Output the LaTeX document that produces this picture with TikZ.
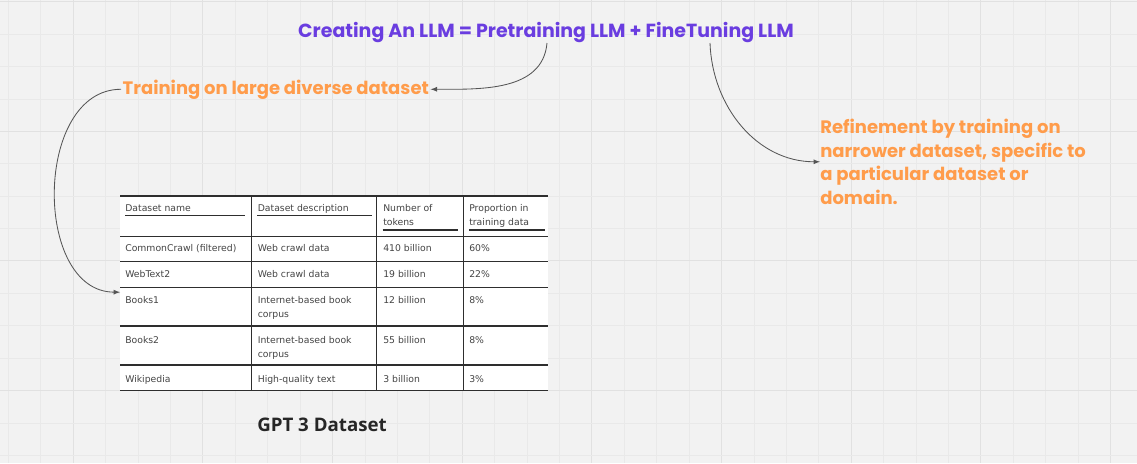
\documentclass[tikz,border=0pt]{standalone}
\usepackage{fontspec}
\usepackage{tikz}
\newfontfamily\notefont{Poppins}
\newfontfamily\cellfont{DejaVu Sans}
\newfontfamily\capfont{Open Sans}
\newcommand\celllines[2]{\vtop{\hbox{#1}\hbox{#2}}}
\definecolor{llm_purple}{HTML}{6A3DE0}
\colorlet{llmpurple}{llm_purple}
\definecolor{note_orange}{HTML}{FF9C4B}
\colorlet{noteorange}{note_orange}
\definecolor{canvas}{HTML}{F2F2F2}
\definecolor{gridminor}{HTML}{E9E9E9}
\definecolor{gridmajor}{HTML}{E1E1E1}
\definecolor{celltext}{HTML}{444444}
\definecolor{cellrule}{HTML}{2E2E2E}
\definecolor{linkgray}{HTML}{555555}
\tikzset{
  headline/.style={text=llmpurple,font=\notefont\bfseries\fontsize{13.5}{16}\selectfont,inner sep=0pt},
  note/.style={text=noteorange,font=\notefont\bfseries\fontsize{12.8}{16.7}\selectfont,inner sep=0pt,align=left},
  cell/.style={text=celltext,font=\cellfont\fontsize{6.6}{10}\selectfont,inner sep=0pt,anchor=base west},
  tablecaption/.style={text=black!85,font=\capfont\bfseries\fontsize{13.3}{15}\selectfont,inner sep=0pt,anchor=base west},
  rowrule/.style={draw=cellrule,line width=1pt},
  headrule/.style={draw=cellrule,line width=0.75pt},
  minorline/.style={draw=gridminor,line width=0.6pt},
  majorline/.style={draw=gridmajor,line width=0.7pt},
  relation/.style={draw=linkgray,line width=0.6pt,-latex},
}
\begin{document}
\begin{tikzpicture}[x=0.025cm,y=-0.025cm]
	    \fill[canvas] (0,0) rectangle (1137,463);
	    \useasboundingbox (0,0) rectangle (1137,463);
	    % background grid
	    \foreach \i in {0,...,34} {
	      \pgfmathtruncatemacro\m{mod(\i,4)}
	      \ifnum\m=2 \draw[majorline] ({8.5+32.41*\i},0) -- ++(0,463);
	      \else \draw[minorline] ({8.5+32.41*\i},0) -- ++(0,463); \fi
	    }
	    \foreach \j in {0,...,14} {
	      \pgfmathtruncatemacro\m{mod(\j,4)}
	      \ifnum\m=0 \draw[majorline] (0,{1.7+32.41*\j}) -- ++(1137,0);
	      \else \draw[minorline] (0,{1.7+32.41*\j}) -- ++(1137,0); \fi
	    }
	    % texts
	    \node[headline,anchor=base] (title) at (546,37) {Creating An LLM = Pretraining LLM + FineTuning LLM};
	    \node[note,anchor=base west,inner sep=1pt] (train) at (121,94) {Training on large diverse dataset};
	    \node[note,anchor=north west] (refine) at (820,119) {Refinement by training on\\narrower dataset, specific to\\a particular dataset or\\domain.};
	    \coordinate (pre) at (547,43);
	    \coordinate (fine) at (710,43);
	    % table
	    \fill[white] (120,195.7) rectangle (548,391);
	    \foreach \y in {196,236.7,261.7,287.3,326,365,390.7}
	      \draw[rowrule] (120,\y) -- (548,\y);
	    \foreach \x in {251.7,376.7,463.3}
	      \draw[rowrule] (\x,196) -- (\x,390.7);
	    \draw[headrule] (125,215.7) -- (245,215.7);
	    \draw[headrule] (257.3,215.7) -- (371.7,215.7);
	    \draw[headrule] (382.7,230) -- (457.7,230);
	    \draw[headrule] (469,230) -- (545,230);
	    \node[cell] (hname) at (125,211.7) {Dataset name};
	    \node[cell] (hdesc) at (257.5,211.7) {Dataset description};
	    \node[cell] (htok) at (383,211.7) {\celllines{Number of}{tokens}};
	    \node[cell] (hprop) at (469,211.7) {\celllines{Proportion in}{training data}};
	    \foreach \r/\y/\nm/\ds/\tk/\pr in {
	      1/251.7/{CommonCrawl (filtered)}/{Web crawl data}/{410 billion}/{60\%},
	      2/277/{WebText2}/{Web crawl data}/{19 billion}/{22\%},
	      3/303.7/{Books1}/{\celllines{Internet-based book}{corpus}}/{12 billion}/{8\%},
	      4/343/{Books2}/{\celllines{Internet-based book}{corpus}}/{55 billion}/{8\%},
	      5/382/{Wikipedia}/{High-quality text}/{3 billion}/{3\%}} {
	      \node[cell] (name\r) at (125,\y) {\nm};
	      \node[cell] (desc\r) at (257.5,\y) {\ds};
	      \node[cell] (tok\r) at (383,\y) {\tk};
	      \node[cell] (prop\r) at (469,\y) {\pr};
	    }
	    \node[tablecaption] (caption) at (257,431) {GPT 3 Dataset};
	    % links
	    \draw[relation] (pre) to[out=-95,in=0] (train.east);
	    \draw[relation] (fine) to[out=-88,in=180] (refine.west);
	    \draw[relation] (train.west) to[out=180,in=180,looseness=1.1] ([xshift=-3.5pt,yshift=3pt]name3.north west);
	\end{tikzpicture}
\end{document}
